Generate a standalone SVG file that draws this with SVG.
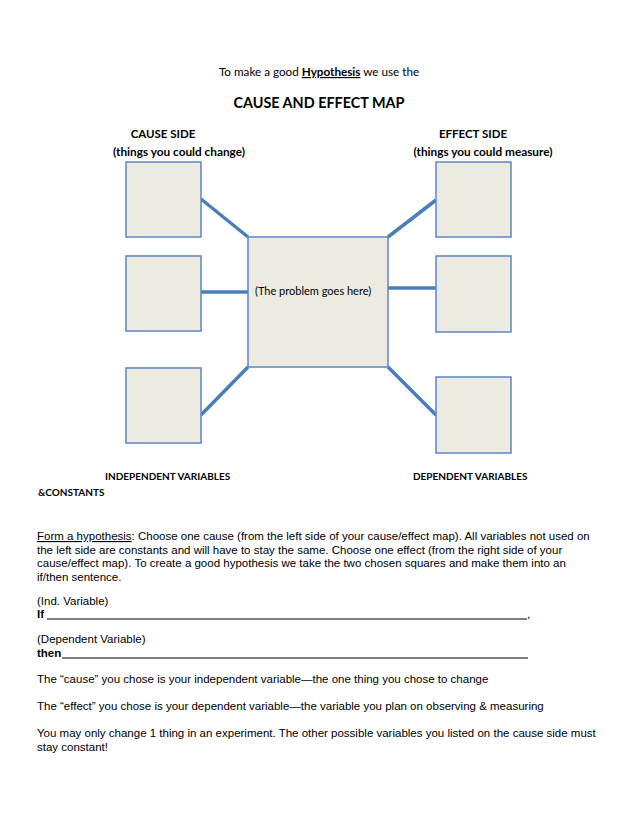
<svg xmlns="http://www.w3.org/2000/svg" width="638" height="826" viewBox="0 0 638 826">
<style>
.box{fill:#ECEAE1;stroke:#5B87C5;stroke-width:1.5}
.con{stroke:#4A7EBB;stroke-width:3.5;fill:none}
.c{font-family:Lato,"Open Sans","Liberation Sans",sans-serif;fill:#000}
.cb{font-family:Lato,"Open Sans","Liberation Sans",sans-serif;font-weight:bold;fill:#000}
.a{font-family:"Liberation Sans",Arial,sans-serif;font-size:11.5px;fill:#000}
.ab{font-family:"Liberation Sans",Arial,sans-serif;font-size:11.5px;font-weight:bold;fill:#000}
</style>
<rect width="638" height="826" fill="#fff"/>
<text class="c" x="319" y="76" font-size="11.7" text-anchor="middle">To make a good <tspan font-weight="bold" text-decoration="underline">Hypothesis</tspan> we use the</text>
<text class="cb" x="319" y="108" font-size="14.4" text-anchor="middle">CAUSE AND EFFECT MAP</text>
<text class="cb" x="163" y="138" font-size="11.5" text-anchor="middle">CAUSE SIDE</text>
<text class="cb" x="179" y="156" font-size="11.8" text-anchor="middle">(things you could change)</text>
<text class="cb" x="473" y="138" font-size="11.5" text-anchor="middle">EFFECT SIDE</text>
<text class="cb" x="483" y="156" font-size="11.8" text-anchor="middle">(things you could measure)</text>
<g id="connectors">
<line class="con" x1="201" y1="199" x2="248" y2="237"/>
<line class="con" x1="201" y1="292" x2="248" y2="292"/>
<line class="con" x1="201" y1="415" x2="248" y2="367"/>
<line class="con" x1="388" y1="237" x2="436" y2="200"/>
<line class="con" x1="388" y1="288" x2="436" y2="288"/>
<line class="con" x1="388" y1="367" x2="436" y2="415"/>
</g>
<g id="cause1"><rect class="box" x="126" y="162" width="75" height="75"/></g>
<g id="cause2"><rect class="box" x="126" y="256" width="75" height="75"/></g>
<g id="cause3"><rect class="box" x="126" y="368" width="75" height="75"/></g>
<g id="problem"><rect class="box" x="248" y="237" width="140" height="130"/>
<text class="c" x="255" y="295" font-size="11">(The problem goes here)</text></g>
<g id="effect1"><rect class="box" x="436" y="162" width="75" height="75"/></g>
<g id="effect2"><rect class="box" x="436" y="256" width="75" height="76"/></g>
<g id="effect3"><rect class="box" x="436" y="377" width="75" height="76"/></g>
<text class="cb" x="105" y="480" font-size="10">INDEPENDENT VARIABLES</text>
<text class="cb" x="413" y="480" font-size="10">DEPENDENT VARIABLES</text>
<text class="cb" x="38" y="496" font-size="10">&amp;CONSTANTS</text>
<text class="a" x="37" y="540"><tspan text-decoration="underline">Form a hypothesis</tspan>: Choose one cause (from the left side of your cause/effect map). All variables not used on</text>
<text class="a" x="37" y="553.5">the left side are constants and will have to stay the same. Choose one effect (from the right side of your</text>
<text class="a" x="37" y="567">cause/effect map). To create a good hypothesis we take the two chosen squares and make them into an</text>
<text class="a" x="37" y="580.5">if/then sentence.</text>
<text class="a" x="37" y="605">(Ind. Variable)</text>
<text class="ab" x="37" y="618">If</text>
<line x1="47" y1="619" x2="527" y2="619" stroke="#000" stroke-width="1"/>
<text class="a" x="527" y="618">,</text>
<text class="a" x="37" y="643">(Dependent Variable)</text>
<text class="ab" x="37" y="657">then</text>
<line x1="62" y1="658" x2="528" y2="658" stroke="#000" stroke-width="1"/>
<text class="a" x="37" y="683">The “cause” you chose is your independent variable—the one thing you chose to change</text>
<text class="a" x="37" y="710">The “effect” you chose is your dependent variable—the variable you plan on observing &amp; measuring</text>
<text class="a" x="37" y="737">You may only change 1 thing in an experiment. The other possible variables you listed on the cause side must</text>
<text class="a" x="37" y="750.5">stay constant!</text>
</svg>
